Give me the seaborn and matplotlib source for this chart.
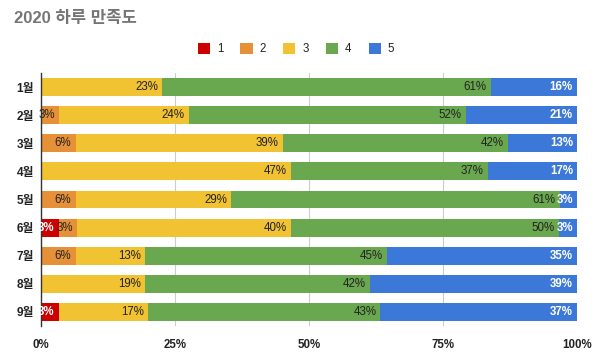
import numpy as np
import pandas as pd
import matplotlib
matplotlib.use("Agg")
import matplotlib.pyplot as plt
from matplotlib.patches import Patch
import seaborn as sns

months = ["1월", "2월", "3월", "4월", "5월", "6월", "7월", "8월", "9월"]
ratings = ["1", "2", "3", "4", "5"]
# number of days per rating in each month
r1 = [0, 0, 0, 0, 0, 1, 0, 0, 1]
r2 = [0, 1, 2, 0, 2, 1, 2, 0, 0]
r3 = [7, 7, 12, 14, 9, 12, 4, 6, 5]
r4 = [19, 15, 13, 11, 19, 15, 14, 13, 13]
r5 = [5, 6, 4, 5, 1, 1, 11, 12, 11]
colors = ["#cc0000", "#e69138", "#f1c232", "#6aa84f", "#3c78d8"]
label_colors = ["white", "#222222", "#222222", "#222222", "white"]
label_weights = ["bold", "normal", "normal", "normal", "bold"]
xticks = [0, 25, 50, 75, 100]
xtick_labels = ["0%", "25%", "50%", "75%", "100%"]
title = "2020 하루 만족도"

sns.set_style("white")
plt.rcParams["font.family"] = ["Liberation Sans", "Noto Sans CJK KR"]

counts = np.array([r1, r2, r3, r4, r5], dtype=float)
pct = counts / counts.sum(axis=0) * 100
cum = np.cumsum(pct, axis=0)

df = pd.DataFrame({"month": months})
for i, r in enumerate(ratings):
    df["cum" + r] = cum[i]
    df["pct" + r] = pct[i]

fig = plt.figure(figsize=(5.92, 3.61), dpi=100)
ax = fig.add_axes([41 / 592, 1 - 326 / 361, 536 / 592, 253 / 361])

for i in range(4, -1, -1):
    sns.barplot(data=df, x="cum" + ratings[i], y="month", order=months,
                color=colors[i], orient="h", width=0.64, saturation=1,
                ax=ax, zorder=3, linewidth=0)

ax.set_xlim(0, 100)
ax.set_ylim(8.5, -0.5)
ax.set_xticks(xticks)
ax.set_xticklabels(xtick_labels, fontsize=8.3, fontweight="bold", color="#222222")
ax.tick_params(axis="x", length=0, pad=9)
ax.tick_params(axis="y", length=0, pad=5)
for lab in ax.get_yticklabels():
    lab.set_fontsize(8.5)
    lab.set_fontweight("bold")
    lab.set_color("#222222")
ax.set_xlabel("")
ax.set_ylabel("")
for s in ["top", "right", "bottom"]:
    ax.spines[s].set_visible(False)
ax.spines["left"].set_color("#333333")
ax.spines["left"].set_linewidth(1)
ax.spines["left"].set_zorder(5)
for x in xticks[1:]:
    ax.axvline(x, color="#cccccc", linewidth=0.8, zorder=1)

for i in range(5):
    for j in range(len(months)):
        p = pct[i, j]
        if p <= 0:
            continue
        ax.annotate(f"{round(p)}%", xy=(cum[i, j], j), xytext=(-3, 0),
                    textcoords="offset points", ha="right", va="center",
                    fontsize=8.3, color=label_colors[i],
                    fontweight=label_weights[i], zorder=6)

fig.text(14 / 592, 1 - 18 / 361, title, fontsize=12, fontweight="bold",
         color="#757575", va="center", ha="left")

handles = [Patch(facecolor=c, edgecolor="none") for c in colors]
fig.legend(handles, ratings, loc="center", bbox_to_anchor=(0.5, 1 - 49 / 361),
           ncol=5, frameon=False, fontsize=8.3, handlelength=1.05,
           handleheight=1.05, handletextpad=0.6, columnspacing=1.5,
           labelcolor="#222222")

fig.savefig("out.png", dpi=100)
